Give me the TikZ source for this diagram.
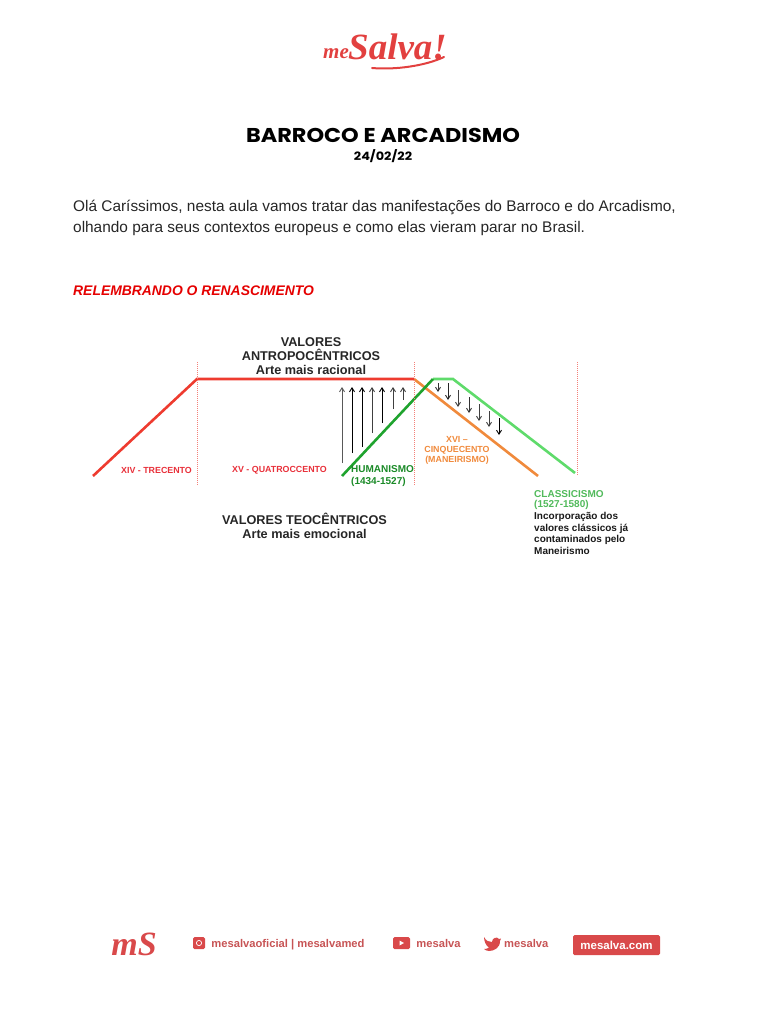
\documentclass[tikz,border=0pt]{standalone}
\usepackage{fontspec}
\setmainfont{Liberation Sans}
\newfontfamily\titlefont[FakeStretch=1.12]{Poppins}
\newfontfamily\logofont{Liberation Serif}
\usetikzlibrary{arrows.meta,calc,positioning}
\definecolor{brandred}{HTML}{E2403F}
\definecolor{footred}{HTML}{D9494A}
\definecolor{linered}{HTML}{EE3B2F}
\definecolor{lineorange}{HTML}{F08A3C}
\definecolor{linedark}{HTML}{1FA32E}
\definecolor{linelight}{HTML}{5FDB6B}
\definecolor{labelred}{HTML}{E8303A}
\tikzset{
  txt/.style={inner sep=0pt,anchor=west,align=left},
  body/.style={txt,font=\fontsize{15.4}{15.4}\selectfont,text=black!85},
  vallabel/.style={inner sep=0pt,font=\fontsize{12.7}{14}\selectfont\bfseries,text=black!85,align=center},
  eralabel/.style={txt,font=\fontsize{8.85}{9}\selectfont\bfseries},
  notelabel/.style={txt,font=\fontsize{10}{10}\selectfont\bfseries},
  era/.style={line width=2.6pt},
  divider/.style={dash pattern=on 1pt off 1pt,line width=1pt,draw=linered!65},
  upar/.style={-{Straight Barb[length=4pt,width=5pt]},line width=.9pt},
  icon/.style={fill=footred,rounded corners=1.5pt,inner sep=0pt},
  foot/.style={txt,font=\fontsize{11.2}{11.2}\selectfont\bfseries,text=footred!80!gray}
}
\begin{document}
\begin{tikzpicture}[x=1pt,y=-1pt]
\useasboundingbox (0,0) rectangle (768,1024);
% header
\node[inner sep=0pt,anchor=west,text=brandred,font=\logofont\fontsize{21}{21}\selectfont\bfseries\itshape] (logome) at (323,54) {me};
\node[inner sep=0pt,anchor=west,text=brandred,font=\logofont\fontsize{37}{37}\selectfont\bfseries\itshape] (logosalva) at (348,47) {Salva!};
\coordinate (swooshl) at (372,68);
\coordinate (swooshr) at (444,57);
\draw[brandred,line width=2pt,line cap=round] (swooshl) .. controls (395,70) and (425,66) .. (swooshr);
\node[inner sep=0pt,font=\titlefont\fontsize{20}{20}\selectfont\bfseries] (title) at (383,135) {BARROCO E ARCADISMO};
\node[inner sep=0pt,font=\titlefont\fontsize{11.5}{11.5}\selectfont\bfseries] (date) at (383,156) {24/02/22};
\node[body] (introa) at (73,207) {Olá Caríssimos, nesta aula vamos tratar das manifestações do Barroco e do Arcadismo,};
\node[body] (introb) at (73,229) {olhando para seus contextos europeus e como elas vieram parar no Brasil.};
\node[txt,text=red!90!black,font=\fontsize{13.9}{13.9}\selectfont\bfseries\itshape] (recall) at (73,291) {RELEMBRANDO O RENASCIMENTO};
% era lines
\coordinate (ra) at (93,476);
\coordinate (rb) at (197,379);
\coordinate (rc) at (414,379);
\coordinate (oa) at (538,476);
\coordinate (da) at (342,476);
\coordinate (db) at (433,379);
\coordinate (lb) at (453,379);
\coordinate (lc) at (575,473);
\draw[era,linelight] (db) -- (lb) -- (lc);
\draw[era,lineorange] (rc) -- (oa);
\draw[era,linered] (ra) -- (rb) -- (rc);
\draw[era,linedark] (da) -- (db);
% dotted dividers
\foreach \n/\x/\yb in {da/197/485,db/414/485,dc/577/475}{
  \coordinate (\n top) at (\x,362);
  \coordinate (\n bot) at (\x,\yb);
  \draw[divider] (\n top) -- (\n bot);
}
% arrows towards the red line
\foreach \i/\x/\yb/\c in {1/342/463/65,2/352/453/100,3/362/447/100,4/372/433/75,5/382/423/100,6/393/409/75,7/403/400/75}{
  \coordinate (upb\i) at (\x,\yb);
  \coordinate (upt\i) at (\x,387);
  \draw[upar,draw=black!\c] (upb\i) -- (upt\i);
}
% arrows towards the orange line
\foreach \i/\x/\ya/\yb/\c in {1/438/383/392/80,2/448/383/400/85,3/458/390/407/75,4/469/397/413/80,5/479/404/421/75,6/489/411/427/75,7/499/418/435/100}{
  \coordinate (dnt\i) at (\x,\ya);
  \coordinate (dnb\i) at (\x,\yb);
  \draw[upar,draw=black!\c] (dnt\i) -- (dnb\i);
}
% labels
\node[vallabel] (antropo) at (311,356) {VALORES\\ANTROPOCÊNTRICOS\\Arte mais racional};
\node[vallabel] (teo) at (304.5,526) {VALORES TEOCÊNTRICOS\\Arte mais emocional};
\node[eralabel,text=labelred] (trecento) at (121,470) {XIV - TRECENTO};
\node[eralabel,text=labelred] (quatro) at (232,470) {XV - QUATROCCENTO};
\node[notelabel,text=linedark!85!black,align=left] (human) at (351,476) {HUMANISMO\\[2pt](1434-1527)};
\node[eralabel,text=lineorange,align=center,anchor=center] (cinque) at (457,450) {XVI –\\[1pt]CINQUECENTO\\[1pt](MANEIRISMO)};
\node[notelabel,text=linelight!85!black] (classic) at (534,494) {CLASSICISMO};
\node[notelabel,text=linelight!85!black] (classicy) at (534,504.5) {(1527-1580)};
\node[notelabel,text=black!90] (note) at (534,533.5) {Incorporação dos\\[1.4pt]valores clássicos já\\[1.4pt]contaminados pelo\\[1.4pt]Maneirismo};
% footer
\node[inner sep=0pt,text=footred,font=\logofont\fontsize{34}{34}\selectfont\bfseries\itshape] (footlogo) at (134,944) {mS};
\node[icon,minimum size=12pt] (insta) at (199,943) {};
\draw[white,line width=.7pt] (insta) circle (2.6);
\node[foot,right=6pt of insta,yshift=-1.5pt] (instatxt) {mesalvaoficial | mesalvamed};
\node[icon,minimum width=17pt,minimum height=12pt] (yt) at (401.5,943) {};
\fill[white] (399.5,940.5) -- (404,943) -- (399.5,945.5) -- cycle;
\node[foot,right=6pt of yt] (yttxt) {mesalva};
\fill[footred] (484,937) .. controls (486,941) and (489,942) .. (492,942) .. controls (492,938) and (497,936) .. (499,939) -- (501,938.5) -- (500,941) .. controls (500,948) and (494,951) .. (489,951) .. controls (487,951) and (485,950) .. (484,949) .. controls (486,949) and (488,948.5) .. (489,947.5) .. controls (486,946) and (484,941) .. (484,937) -- cycle;
\node[foot] (twtxt) at (504,943) {mesalva};
\node[fill=footred,rounded corners=1.5pt,inner sep=0pt,minimum width=87pt,minimum height=20pt,text=white,font=\fontsize{11.5}{11.5}\selectfont\bfseries] (site) at (616.5,945) {mesalva.com};
\end{tikzpicture}
\end{document}
